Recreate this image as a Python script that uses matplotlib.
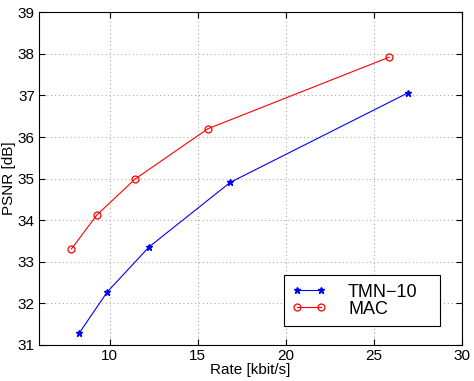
import matplotlib
matplotlib.use("Agg")
import matplotlib.pyplot as plt

plt.rcParams['font.family'] = ['Liberation Sans', 'DejaVu Sans']

tmn_rate = [8.27, 9.88, 12.25, 16.85, 26.92]
tmn_psnr = [31.28, 32.28, 33.36, 34.91, 37.06]
mac_rate = [7.84, 9.29, 11.45, 15.58, 25.86]
mac_psnr = [33.31, 34.13, 34.99, 36.20, 37.92]
xticks = [10, 15, 20, 25, 30]
yticks = [31, 32, 33, 34, 35, 36, 37, 38, 39]

fig = plt.figure(figsize=(4.74, 3.81), dpi=100)
ax = fig.add_axes([0.0823, 0.0945, 0.8924, 0.8732])

ax.plot(tmn_rate, tmn_psnr, color='#0000ff', marker='*', markersize=4.5,
        linewidth=0.8, label='TMN\u221210')
ax.plot(mac_rate, mac_psnr, color='#ff0000', marker='o', markersize=5,
        markerfacecolor='none', markeredgewidth=0.9, linewidth=0.8, label='MAC')

ax.set_xlim(6, 30)
ax.set_ylim(31, 39)
ax.set_xticks(xticks)
ax.set_yticks(yticks)
ax.tick_params(direction='in', labelsize=11, length=4, top=True, right=True, pad=3)
ax.grid(True, linestyle=(0, (1, 2.5)), color='#aaaaaa', linewidth=0.8)
for s in ax.spines.values():
    s.set_linewidth(0.8)

ax.set_xlabel('Rate [kbit/s]', fontsize=11, labelpad=0)
ax.set_ylabel('PSNR [dB]', fontsize=11, labelpad=1)

leg = ax.legend(loc='lower left', bbox_to_anchor=(0.579, 0.058, 0.369, 0.146),
                mode='expand', fontsize=13, fancybox=False, framealpha=1,
                edgecolor='black', handlelength=1.9, handletextpad=1.2,
                labelspacing=0.0, borderpad=0.45, borderaxespad=0, numpoints=2)
leg.get_frame().set_linewidth(0.8)

fig.savefig('out.png', dpi=100)
